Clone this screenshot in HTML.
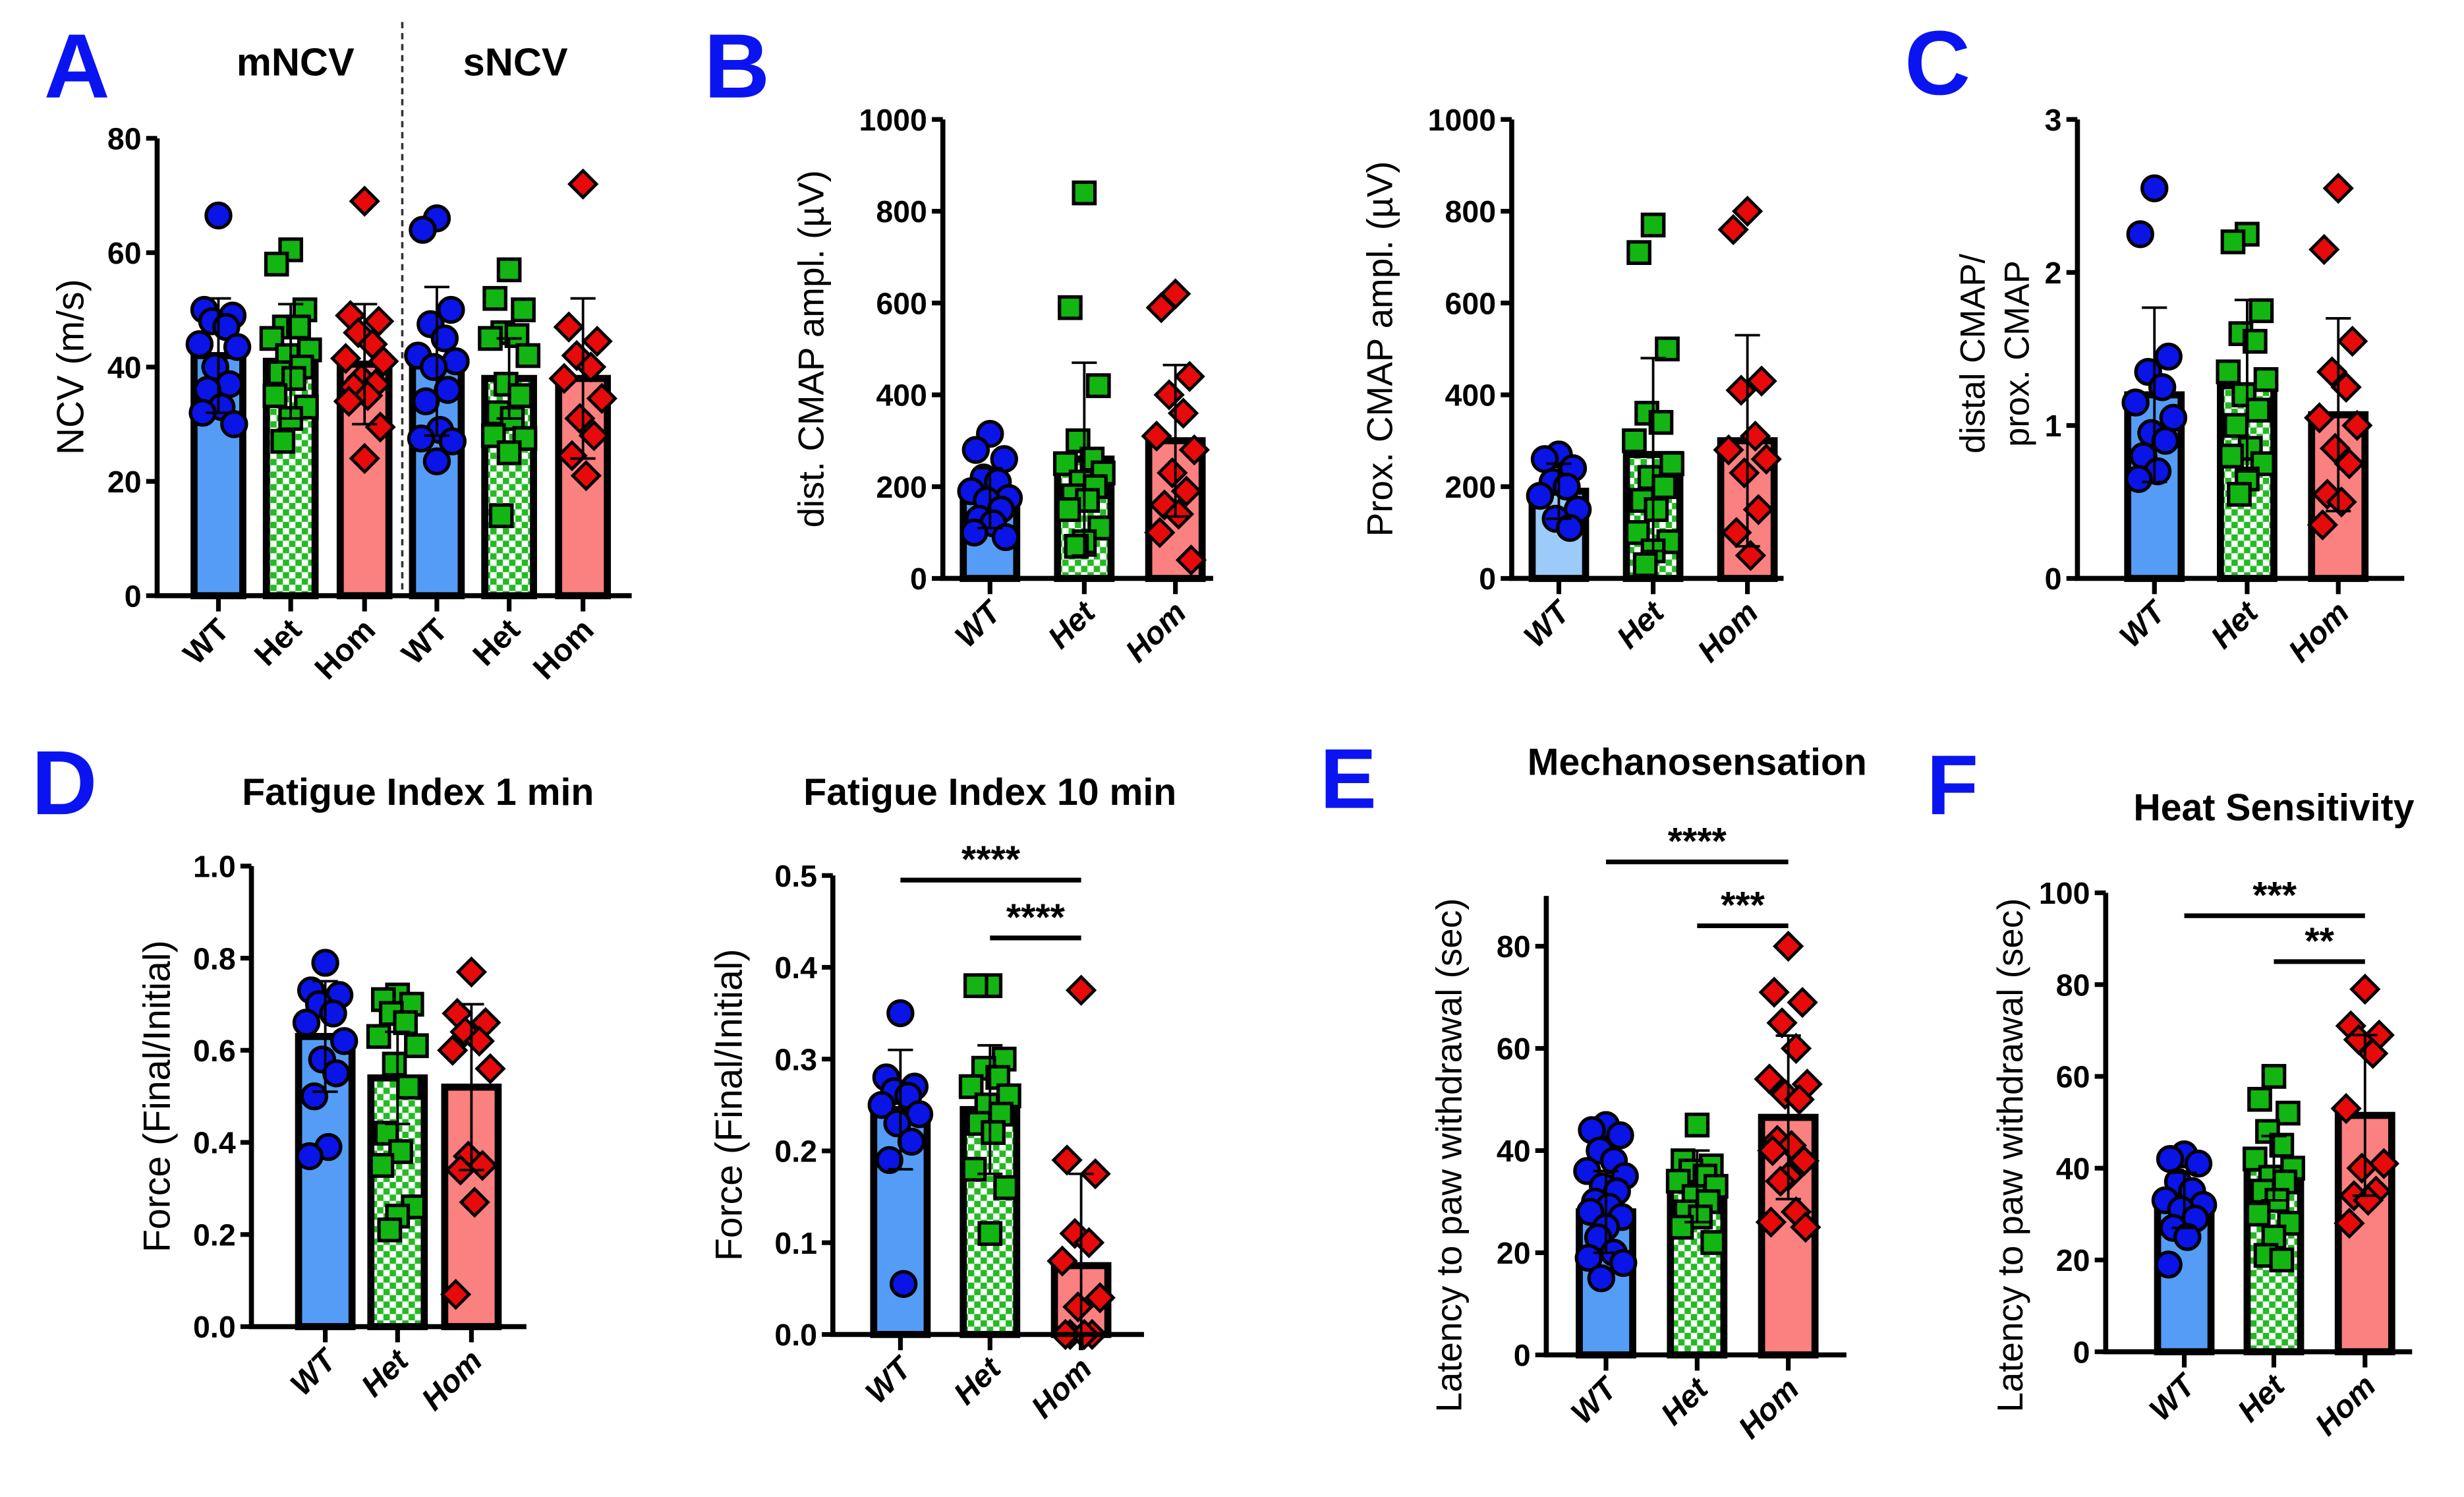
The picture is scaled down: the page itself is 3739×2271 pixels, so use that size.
<!DOCTYPE html>
<html><head><meta charset="utf-8"><style>
html,body{margin:0;padding:0;background:#fff}
svg{display:block}
text{font-family:"Liberation Sans",sans-serif}
</style></head><body>
<svg id="fig" width="3739" height="2271" viewBox="0 0 1568 952.4" preserveAspectRatio="none" xmlns="http://www.w3.org/2000/svg">
<defs>
<pattern id="chk" width="8" height="8" patternUnits="userSpaceOnUse">
<rect width="8" height="8" fill="#fff"/><rect width="4" height="4" fill="#22bb22"/><rect x="4" y="4" width="4" height="4" fill="#22bb22"/>
</pattern>
</defs>
<g id="root"></g>
</svg>
<script>
// ---- data ----
const groups = ["WT","Het","Hom"];
const aMWT=[66.5,50,49,48,47,44,43.5,40,37,36,33,32,30];
const aMHet=[60.5,58,50,47,47,45,43,42,40,39,38,35,33,31,27];
const aMHom=[69,49,48,46,44,41.5,41,38,37,36.5,35,34,29.5,24];
const aSWT=[66,64,50,47.5,45,42,41,40,36,34,29,27.5,27,23.5];
const aSHet=[57,52,50,46,45.5,45,42,37,35,32,31,28,27.5,25,14];
const aSHom=[72,47,44.5,42,40,38,34.5,31,28,24.5,21];
const aMeans=[42,41,40.5,41,38,38];
const aErr=[52,51,51,54,45,52];
const b1WT=[315,280,260,220,210,190,175,170,150,130,120,100,90];
const b1Het=[840,590,420,300,260,250,230,210,200,180,170,150,110,80,70];
const b1Hom=[620,590,440,400,360,310,280,230,190,160,140,100,40];
const b1Means=[175,260,300];const b1Err=[240,470,465];
const b2WT=[270,260,240,210,200,180,150,130,110];
const b2Het=[770,710,500,360,340,300,250,220,200,170,150,100,80,60,30];
const b2Hom=[800,760,430,410,310,280,260,230,150,100,50];
const b2Means=[190,270,300];const b2Err=[250,480,530];
const cWT=[2.55,2.25,1.45,1.35,1.25,1.15,1.05,0.95,0.9,0.8,0.7,0.65];
const cHet=[2.25,2.2,1.75,1.6,1.55,1.35,1.3,1.2,1.1,1.0,0.85,0.8,0.75,0.65,0.55];
const cHom=[2.55,2.15,1.55,1.35,1.25,1.05,1.0,0.85,0.75,0.55,0.5,0.35];
const cMeans=[1.2,1.26,1.07];const cErr=[1.77,1.82,1.7];
const d1WT=[0.79,0.73,0.72,0.70,0.68,0.66,0.62,0.58,0.55,0.50,0.39,0.37];
const d1Het=[0.72,0.71,0.70,0.68,0.66,0.63,0.61,0.57,0.52,0.42,0.38,0.35,0.26,0.24,0.21];
const d1Hom=[0.77,0.68,0.66,0.64,0.62,0.60,0.56,0.37,0.35,0.34,0.27,0.07];
const d1Means=[0.63,0.54,0.52];const d1Err=[0.75,0.64,0.70];
const d2WT=[0.35,0.28,0.27,0.265,0.26,0.25,0.24,0.23,0.21,0.19,0.055];
const d2Het=[0.38,0.38,0.30,0.29,0.28,0.27,0.26,0.25,0.24,0.23,0.22,0.18,0.16,0.11];
const d2Hom=[0.375,0.19,0.175,0.11,0.10,0.08,0.04,0.03,0,0,0,0];
const d2Means=[0.245,0.245,0.075];const d2Err=[0.31,0.315,0.175];
const eWT=[45,44,43,40,38,36,35,33,32,30,29,28,27,25,23,20,19,18,15];
const eHet=[45,38,37,36,35,34,33,31,30,28,27,25,22];
const eHom=[80,71,69,65,60,54,53,51,50,42,41,40,38,35,34,28,26,25];
const eMeans=[28,33,46.5];const eErr=[36,40,62.5];
const fWT=[43,42,41,37,35,33,32,31,29,27,25,19];
const fHet=[60,55,52,48,45,42,40,38,37,35,33,30,28,25,21,20];
const fHom=[79,71,69,68,65,53,41,40,35,34,33,28];
const fMeans=[33,40,51.5];const fErr=[39,47,69];

const NS="http://www.w3.org/2000/svg";
const root=document.getElementById('root');
function mk(tag,attrs,parent,txt){const e=document.createElementNS(NS,tag);for(const k in attrs)e.setAttribute(k,attrs[k]);if(txt!==undefined)e.textContent=txt;(parent||root).appendChild(e);return e;}
const FILL=["#559cf7","url(#chk)","#fb8080"];
const jit=[0,-9,9,-4,5,-12,12,-2,7,-7,2,-10,10,0,-5,5,-11,11,-3,3];

function marker(g,type,x,y){
  let e;
  if(type===0){e=mk('circle',{cx:x,cy:y,r:7.8,fill:'#0a14e6',stroke:'#000','stroke-width':2.2},g);}
  else if(type===1){e=mk('rect',{x:x-6.8,y:y-6.8,width:13.6,height:13.6,fill:'#12b512',stroke:'#000','stroke-width':2.2},g);}
  else {e=mk('path',{d:`M${x} ${y-8.5}L${x+8.5} ${y}L${x} ${y+8.5}L${x-8.5} ${y}Z`,fill:'#e60a0a',stroke:'#000','stroke-width':2},g);}
  
  
}

function panel(o){
  const g=mk('g',{});
  
  
  const ys=v=>o.y0-(v-o.min)/(o.max-o.min)*(o.y0-o.yTop);
  const yt=mk('text',{x:0,y:0,transform:`translate(${o.ytx},${o.tyc||(o.y0+o.yTop)/2}) rotate(-90)`,'text-anchor':'middle','font-size':o.ytSize||22},g,o.ytitle);
  
  if(o.ytitle2){const y2=mk('text',{x:0,y:0,transform:`translate(${o.ytx+28},${o.tyc||(o.y0+o.yTop)/2}) rotate(-90)`,'text-anchor':'middle','font-size':22},g,o.ytitle2);
    }
  o.xs.forEach((cx,i)=>{
    const gi=i%3;
    const b=mk('rect',{x:cx-o.bw/2,y:ys(o.means[i]),width:o.bw,height:o.y0-ys(o.means[i]),fill:(o.fills?o.fills[i]:FILL[gi]),stroke:'#000','stroke-width':4.5},g);
    
  });
  o.pts.forEach((arr,i)=>{const gi=i%3;const cx=o.xs[i];arr.forEach((v,k)=>marker(g,gi,cx+jit[k%jit.length]*(o.jsc||1),ys(v)));});
  o.xs.forEach((cx,i)=>{
    const up=ys(o.err[i]), lo=ys(2*o.means[i]-o.err[i]);
    const e=mk('path',{d:`M${cx} ${up}V${Math.min(lo,o.y0)}M${cx-8} ${up}H${cx+8}`+(lo<o.y0?`M${cx-8} ${lo}H${cx+8}`:''),stroke:'#000','stroke-width':1.6,fill:'none'},g);
    
  });
  const ax=mk('path',{d:`M${o.ax} ${o.yAxTop||o.yTop}V${o.y0}H${o.xEnd}`,stroke:'#000','stroke-width':3.2,fill:'none'},g);
  
  o.ticks.forEach((t,i)=>{
    const y=ys(t);
    mk('path',{d:`M${o.ax-7} ${y}H${o.ax}`,stroke:'#000','stroke-width':3},g);
    const tl=mk('text',{x:o.ax-10,y:y+7,'text-anchor':'end','font-size':19.5,'font-weight':'bold'},g,o.tickLabels[i]);
    
  });
  o.xs.forEach((cx,i)=>{
    mk('path',{d:`M${cx} ${o.y0}V${o.y0+10}`,stroke:'#000','stroke-width':3},g);
    const lb=mk('text',{x:0,y:0,transform:`translate(${cx+8},${o.y0+23}) rotate(-45)`,'text-anchor':'end','font-size':20,'font-weight':'bold','font-style':o.italic?'italic':'normal'},g,groups[i%3]);
    
  });
  if(o.title){const t=mk('text',{x:o.tx,y:o.ty,'text-anchor':'middle','font-size':24,'font-weight':'bold'},g,o.title);
    }
  (o.sig||[]).forEach(s=>{
    const y=ys(s.v);
    const l=mk('path',{d:`M${o.xs[s.a]} ${y}H${o.xs[s.b]}`,stroke:'#000','stroke-width':3},g);
    
    const st=mk('text',{x:(o.xs[s.a]+o.xs[s.b])/2,y:y-5,'text-anchor':'middle','font-size':24,'font-weight':'bold'},g,s.t);
    
  });
}
function letter(ch,x,y,sz){const t=mk('text',{x:x,y:y,'font-size':sz||58,'font-weight':'bold',fill:'#0a14f0'},root,ch);
  }

panel({name:'panel-a-ncv',min:0,max:80,y0:379,yTop:88,ax:100,xEnd:402,xs:[139,185,232,278,324,371],bw:31,
  means:aMeans,err:aErr,pts:[aMWT,aMHet,aMHom,aSWT,aSHet,aSHom],ticks:[0,20,40,60,80],tickLabels:["0","20","40","60","80"],
  ytitle:'NCV  (m/s)',ytx:53,ytSize:24,jsc:1});
const dl=mk('path',{d:'M256 14V378',stroke:'#333','stroke-width':1.5,'stroke-dasharray':'4 3'});

[['mNCV',188],['sNCV',328]].forEach(([t,x])=>{const e=mk('text',{x:x,y:48,'text-anchor':'middle','font-size':25,'font-weight':'bold'},root,t);
  });
letter('A',28,62);
panel({name:'panel-b-distal-cmap',min:0,max:1000,y0:368,yTop:76,ax:600,xEnd:772,xs:[630,690,748],bw:34,
  means:b1Means,err:b1Err,pts:[b1WT,b1Het,b1Hom],ticks:[0,200,400,600,800,1000],tickLabels:["0","200","400","600","800","1000"],
  ytitle:'dist. CMAP ampl. (µV)',ytx:524,ytSize:23,italic:true,jsc:1});
panel({name:'panel-b-prox-cmap',min:0,max:1000,y0:368,yTop:76,ax:962,xEnd:1135,xs:[992,1052,1112],bw:34,fills:["#9ccaf9","url(#chk)","#fb8080"],
  means:b2Means,err:b2Err,pts:[b2WT,b2Het,b2Hom],ticks:[0,200,400,600,800,1000],tickLabels:["0","200","400","600","800","1000"],
  ytitle:'Prox. CMAP ampl. (µV)',ytx:886,ytSize:23,italic:true,jsc:1});
letter('B',448,62);
panel({name:'panel-c-cmap-ratio',min:0,max:3,y0:368,yTop:76,ax:1322,xEnd:1530,xs:[1371,1430,1488],bw:34,
  means:cMeans,err:cErr,pts:[cWT,cHet,cHom],ticks:[0,1,2,3],tickLabels:["0","1","2","3"],
  ytitle:'distal CMAP/',ytitle2:'prox. CMAP',ytx:1263,tyc:225,italic:true,jsc:1});
letter('C',1212,60);
panel({name:'panel-d-fatigue-1min',min:0,max:1,y0:844,yTop:551,ax:160,xEnd:335,xs:[207,253,300],bw:34,
  means:d1Means,err:d1Err,pts:[d1WT,d1Het,d1Hom],ticks:[0,0.2,0.4,0.6,0.8,1.0],tickLabels:["0.0","0.2","0.4","0.6","0.8","1.0"],
  ytitle:'Force  (Final/Initial)',ytx:108,ytSize:24,italic:true,title:'Fatigue Index 1 min',tx:266,ty:512});
panel({name:'panel-d-fatigue-10min',min:0,max:0.5,y0:849,yTop:557,ax:530,xEnd:728,xs:[573,630,688],bw:34,
  means:d2Means,err:d2Err,pts:[d2WT,d2Het,d2Hom],ticks:[0,0.1,0.2,0.3,0.4,0.5],tickLabels:["0.0","0.1","0.2","0.3","0.4","0.5"],
  ytitle:'Force  (Final/Initial)',ytx:472,ytSize:24,italic:true,title:'Fatigue Index 10 min',tx:630,ty:512,
  sig:[{a:0,b:2,v:0.495,t:'****'},{a:1,b:2,v:0.432,t:'****'}]});
letter('D',20,518);
panel({name:'panel-e-mechanosensation',min:0,max:80,y0:862,yTop:602,yAxTop:570,ax:984,xEnd:1175,xs:[1022,1080,1138],bw:34,
  means:eMeans,err:eErr,pts:[eWT,eHet,eHom],ticks:[0,20,40,60,80],tickLabels:["0","20","40","60","80"],
  ytitle:'Latency to paw withdrawal (sec)',ytx:930,tyc:735,ytSize:23,italic:true,title:'Mechanosensation',tx:1080,ty:493,
  sig:[{a:0,b:2,v:96.5,t:'****'},{a:1,b:2,v:84,t:'***'}]});
letter('E',840,514,54);
panel({name:'panel-f-heat-sensitivity',min:0,max:100,y0:860,yTop:568,ax:1340,xEnd:1535,xs:[1390,1447,1505],bw:34,
  means:fMeans,err:fErr,pts:[fWT,fHet,fHom],ticks:[0,20,40,60,80,100],tickLabels:["0","20","40","60","80","100"],
  ytitle:'Latency to paw withdrawal (sec)',ytx:1287,tyc:735,ytSize:23,italic:true,title:'Heat Sensitivity',tx:1447,ty:522,
  sig:[{a:0,b:2,v:95,t:'***'},{a:1,b:2,v:85,t:'**'}]});
letter('F',1226,518,54);
</script>
</body></html>
